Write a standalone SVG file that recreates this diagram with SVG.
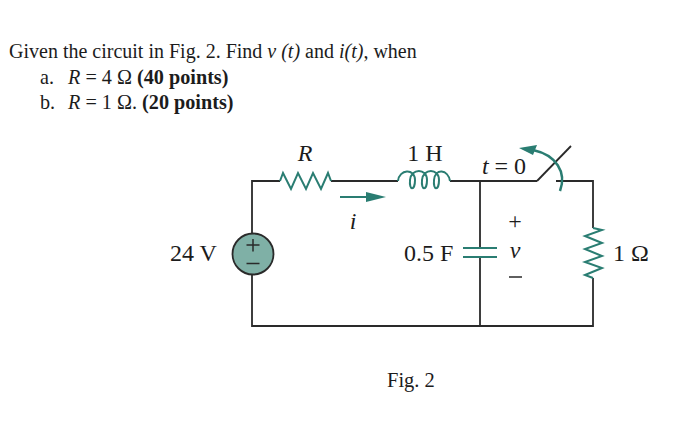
<svg xmlns="http://www.w3.org/2000/svg" width="685" height="427" viewBox="0 0 685 427">
<style>
text{font-family:"Liberation Serif","Times New Roman",serif;fill:#1c1c1c}
.t{font-size:20px}
.u{font-size:20.200px}
.f{font-size:20.500px}
.c{font-size:24px}
.w{fill:none;stroke:#2a2a2a;stroke-width:1.800}
.g{fill:none;stroke:#2a7d72;stroke-width:2}
</style>
<rect width="685" height="427" fill="#fff"/>
<g id="problem-text">
<text class="t" x="9" y="57.500">Given the circuit in Fig. 2. Find <tspan font-style="italic">v (t)</tspan> and <tspan font-style="italic">i(t)</tspan>, when</text>
<text class="u" x="40" y="83.500">a.</text>
<text class="u" x="68" y="83.500"><tspan font-style="italic">R</tspan> = 4 Ω <tspan font-weight="bold">(40 points)</tspan></text>
<text class="u" x="40" y="109">b.</text>
<text class="u" x="68" y="109"><tspan font-style="italic">R</tspan> = 1 Ω. <tspan font-weight="bold">(20 points)</tspan></text>
</g>
<g id="connectors">
<path class="w" d="M252 233V181H280M331 181H398M450 181H537M556 181H593V228M593 278V326H252V275M480 181V248M480 257V326"/>
</g>
<g id="source">
<circle cx="253" cy="254" r="20.500" fill="#7fb0a6" stroke="#2a2a2a" stroke-width="1.800"/>
<path d="M246.500 245H259.500M253 239V251.500M246.500 263.500H259.500" fill="none" stroke="#2a2a2a" stroke-width="1.500"/>
<text class="c" x="170" y="261">24 V</text>
</g>
<g id="resistor-r">
<path class="g" d="M280 181L283 173L291 189L298 173L306 189L313 173L321 189L328 173L331 181"/>
<text class="c" x="305" y="161" text-anchor="middle" font-style="italic">R</text>
</g>
<g id="current-arrow">
<path class="g" d="M340 197H368"/>
<path d="M366 192L386 197L366 202z" fill="#2a7d72"/>
<text class="c" x="353" y="229" text-anchor="middle" font-style="italic">i</text>
</g>
<g id="inductor">
<path class="g" d="M398 181C399 169 415 168 415 180C415 191 409 191 410 180C411 168 427 168 427 180C427 191 421 191 422 180C423 168 439 168 439 180C439 191 433 191 434 180C435 168 448 169 450 181"/>
<text class="c" x="425" y="161" text-anchor="middle">1 H</text>
</g>
<g id="switch">
<path class="w" d="M537 181L571 146"/>
<path d="M560 191C567 172 556 155 533 150" fill="none" stroke="#2a7d72" stroke-width="2.500"/>
<path d="M519 148L537 145L533 155z" fill="#2a7d72"/>
<text class="c" x="504" y="174" text-anchor="middle"><tspan font-style="italic">t</tspan> = 0</text>
</g>
<g id="capacitor">
<path class="g" d="M463 248H497M463 257H497"/>
<text class="c" x="404" y="261">0.5 F</text>
<text class="c" x="515" y="229" text-anchor="middle">+</text>
<text class="c" x="515" y="258" text-anchor="middle" font-style="italic">v</text>
<path d="M509 277H522" stroke="#2a2a2a" stroke-width="1.500"/>
</g>
<g id="resistor-1">
<path class="g" d="M593 228L602 230L585 236L602 243L585 249L602 256L585 262L602 268L585 275L593 278"/>
<text class="c" x="613" y="261">1 Ω</text>
</g>
<g id="caption">
<text class="f" x="387" y="387">Fig. 2</text>
</g>
</svg>
